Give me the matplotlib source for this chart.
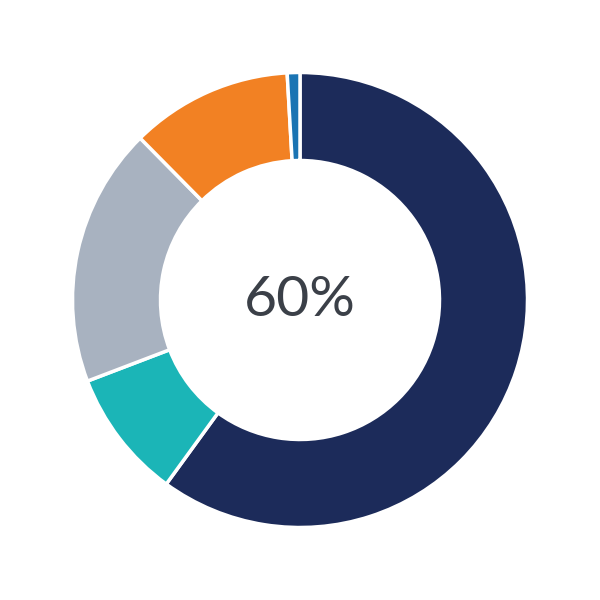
import matplotlib
matplotlib.use("Agg")
import matplotlib.pyplot as plt

labels = ["Navy", "Teal", "Gray", "Orange", "Blue"]
values = [60.0, 9.2, 18.4, 11.5, 0.9]
colors = ["#1c2b5a", "#1bb5b7", "#a8b2c0", "#f28123", "#1a74b3"]
center_text = "60%"

fig = plt.figure(figsize=(6, 6), dpi=100)
ax = fig.add_axes([0, 0, 1, 1])
ax.pie(values, colors=colors, startangle=90, counterclock=False,
       radius=2.275, center=(0, 0),
       wedgeprops=dict(width=0.88, edgecolor="white", linewidth=2.5))
ax.set_xlim(-3, 3)
ax.set_ylim(-3, 3)
ax.set_aspect("equal")
ax.axis("off")
ax.text(0, 0.0, center_text, ha="center", va="center", fontsize=41,
        color="#3b4048", family="Lato", weight="normal")
fig.savefig("out.png", dpi=100, facecolor="white")
